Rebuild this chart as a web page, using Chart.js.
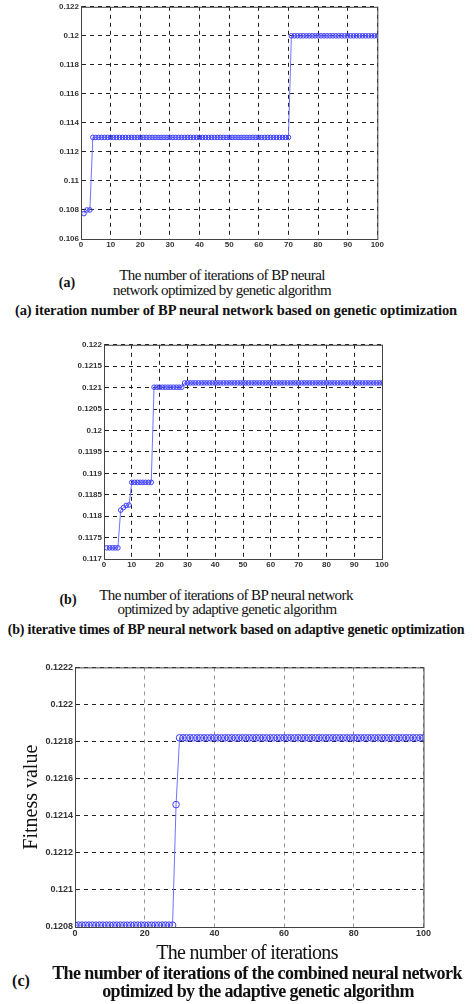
<!DOCTYPE html>
<html><head><meta charset="utf-8">
<script src="https://cdn.jsdelivr.net/npm/chart.js@4/dist/chart.umd.min.js"></script>
<style>
body{margin:0;width:474px;height:1004px;background:#fff;position:relative;overflow:hidden;font-family:"Liberation Serif",serif;color:#111}
.box{position:absolute}
.t{position:absolute;white-space:nowrap;transform:translate(-50%,-50%);line-height:1}
</style></head><body>
<div class="box" style="left:40px;top:0;width:345px;height:255px"><canvas id="ca"></canvas></div>
<div class="box" style="left:60px;top:338px;width:330px;height:235px"><canvas id="cb"></canvas></div>
<div class="box" style="left:20px;top:660px;width:412px;height:290px"><canvas id="cc"></canvas></div>

<div class="t" style="left:67px;top:283px;font-size:14px;font-weight:bold">(a)</div>
<div class="t" style="left:222px;top:275px;font-size:15px;letter-spacing:-0.6px">The number of iterations of BP neural</div>
<div class="t" style="left:222px;top:290px;font-size:15px;letter-spacing:-0.6px">network optimized by genetic algorithm</div>
<div class="t" style="left:236px;top:310px;font-size:14.5px;font-weight:bold;letter-spacing:-0.1px">(a) iteration number of BP neural network based on genetic optimization</div>

<div class="t" style="left:68px;top:600px;font-size:14px;font-weight:bold">(b)</div>
<div class="t" style="left:226px;top:595px;font-size:15px;letter-spacing:-0.6px">The number of iterations of BP neural network</div>
<div class="t" style="left:227px;top:609px;font-size:15px;letter-spacing:-0.6px">optimized by adaptive genetic algorithm</div>
<div class="t" style="left:236px;top:630px;font-size:14px;font-weight:bold;letter-spacing:-0.2px">(b) iterative times of BP neural network based on adaptive genetic optimization</div>

<div class="t" style="left:247px;top:952px;font-size:20px;letter-spacing:-0.7px">The number of iterations</div>
<div class="t" style="left:21px;top:981px;font-size:16px;font-weight:bold">(c)</div>
<div class="t" style="left:257px;top:973px;font-size:18px;font-weight:bold;letter-spacing:-0.6px">The number of iterations of the combined neural network</div>
<div class="t" style="left:258px;top:991px;font-size:18px;font-weight:bold;letter-spacing:-0.6px">optimized by the adaptive genetic algorithm</div>

<script>
// ---- data ----
const itersA = [1,2,3,4,70,71,100];
const valuesA = [0.10775,0.1080,0.1080,0.1130,0.1130,0.1200,0.1200];
const itersB = [1,5,6,7,8,9,10,17,18,28,29,100];
const valuesB = [0.11726,0.11726,0.11814,0.11820,0.11825,0.11826,0.11879,0.11879,0.12101,0.12101,0.12111,0.12111];
const itersC = [0,28,29,30,100];
const valuesC = [0.12081,0.12081,0.12146,0.12182,0.12182];
const yTicksA = ["0.106","0.108","0.11","0.112","0.114","0.116","0.118","0.12","0.122"];
const yTicksB = ["0.117","0.1175","0.118","0.1185","0.119","0.1195","0.12","0.1205","0.121","0.1215","0.122"];
const yTicksC = ["0.1208","0.121","0.1212","0.1214","0.1216","0.1218","0.122","0.1222"];
const xTicksAB = ["0","10","20","30","40","50","60","70","80","90","100"];
const xTicksC = ["0","20","40","60","80","100"];

function expand(xs, ys){
  const pts=[];
  for(let i=0;i<xs.length;i++){
    if(i>0){for(let x=xs[i-1]+1;x<xs[i];x++) pts.push({x, y:ys[i-1]});}
    pts.push({x:xs[i], y:ys[i]});
  }
  return pts;
}

function make(id, pts, yLabels, ymin, ymax, ystep, xLabels, xstep, opt){
  const tickFont={family:"Liberation Sans",size:opt.fs,weight:'bold'};
  new Chart(document.getElementById(id),{
    type:'line',
    data:{datasets:[{data:pts,borderColor:'#7373ff',borderWidth:1,pointRadius:opt.r,pointBorderColor:'#3c3cff',pointBackgroundColor:'rgba(0,0,0,0)',pointBorderWidth:1,tension:0}]},
    options:{
      responsive:true,maintainAspectRatio:false,animation:false,
      layout:{padding:{top:opt.pt,right:opt.pr,left:0,bottom:0}},
      plugins:{legend:{display:false},tooltip:{enabled:false}},
      scales:{
        x:{type:'linear',min:0,max:100,
          ticks:{stepSize:xstep,color:'#333',font:tickFont,padding:1,maxRotation:0,callback:(v,i)=>xLabels[i]},
          grid:{color:opt.vgrid,lineWidth:1,drawTicks:false},
          border:{color:'#444',width:1,dash:[4,4]},
          afterFit:s=>{s.height=opt.xh;}},
        y:{min:ymin,max:ymax,
          ticks:{stepSize:ystep,color:'#333',font:tickFont,padding:2,callback:(v,i)=>yLabels[i]},
          grid:{color:'#222',lineWidth:1,drawTicks:false},
          border:{color:'#444',width:1,dash:[4,4]},
          title:opt.ytitle?{display:true,text:opt.ytitle,font:{family:"Liberation Serif",size:20},color:'#111',padding:0}:{display:false},
          afterFit:s=>{s.width=opt.yw;}}
      }
    },
    plugins:[{id:'frame',afterDraw(c){const a=c.chartArea,g=c.ctx;g.save();g.setLineDash([]);g.strokeStyle='#444';g.lineWidth=1;g.strokeRect(a.left+0.5,a.top+0.5,a.right-a.left,a.bottom-a.top);g.restore();}}]
  });
}
make('ca',expand(itersA,valuesA),yTicksA,0.106,0.122,0.002,xTicksAB,10,{fs:8,r:2.3,pt:5,pr:7,xh:16,yw:41,vgrid:'#222'});
make('cb',expand(itersB,valuesB),yTicksB,0.117,0.122,0.0005,xTicksAB,10,{fs:8,r:2.3,pt:5,pr:8,xh:14,yw:44,vgrid:'#222'});
make('cc',expand(itersC,valuesC),yTicksC,0.1208,0.1222,0.0002,xTicksC,20,{fs:9,r:3.3,pt:6,pr:8,xh:23,yw:55,vgrid:'#999',ytitle:'Fitness value'});
</script>
</body></html>
